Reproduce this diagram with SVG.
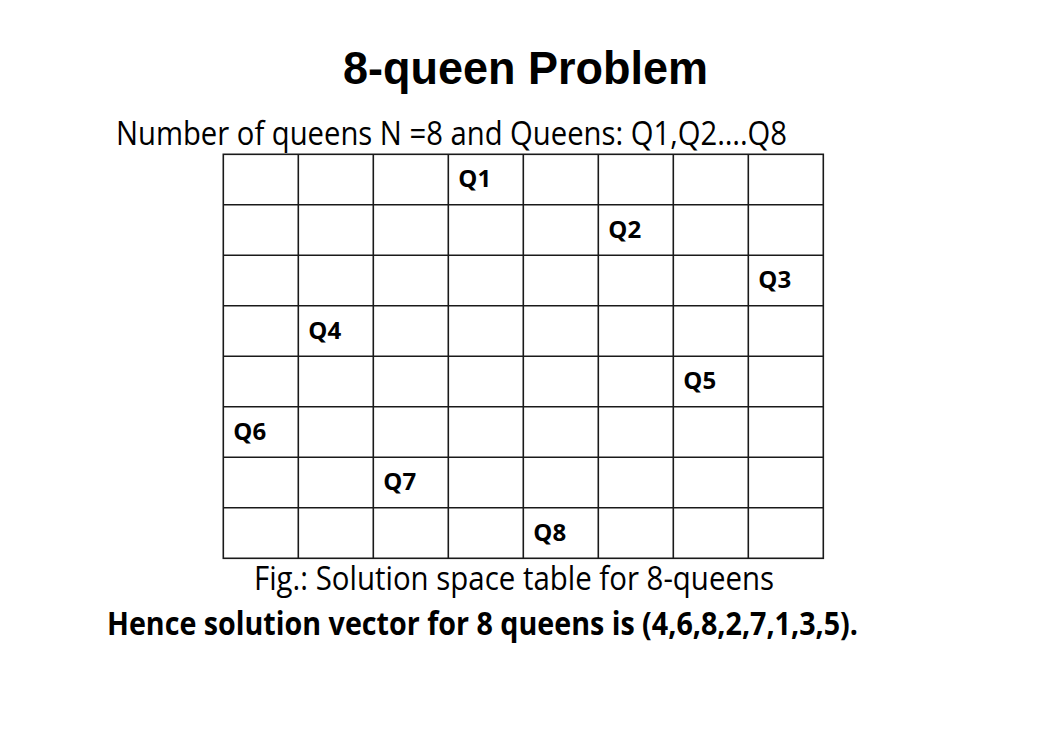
<svg xmlns="http://www.w3.org/2000/svg" width="1052" height="744" viewBox="0 0 1052 744">
<style>
.title{font-family:"Liberation Sans",Arial,sans-serif;font-weight:bold;font-size:46px;fill:#000}
.txt{font-family:"Open Sans","Liberation Sans",sans-serif;font-size:32px;fill:#000}
.bold{font-family:"Open Sans","Liberation Sans",sans-serif;font-weight:bold;font-size:32px;fill:#000}
.q{font-family:"Open Sans","Liberation Sans",sans-serif;font-weight:bold;font-size:24px;fill:#000}
.grid{stroke:#1a1a1a;stroke-width:1.6;fill:none}
</style>
<rect width="1052" height="744" fill="#fff"/>
<text class="title" x="343" y="84" textLength="365" lengthAdjust="spacingAndGlyphs">8-queen Problem</text>
<text class="txt" x="116" y="145" textLength="671" lengthAdjust="spacingAndGlyphs">Number of queens N =8 and Queens: Q1,Q2….Q8</text>
<g id="board">
<rect class="grid" x="223.3" y="154.3" width="600" height="404"/>
<path class="grid" d="M298.3 154.3V558.3M373.3 154.3V558.3M448.3 154.3V558.3M523.3 154.3V558.3M598.3 154.3V558.3M673.3 154.3V558.3M748.3 154.3V558.3M223.3 204.8H823.3M223.3 255.3H823.3M223.3 305.8H823.3M223.3 356.3H823.3M223.3 406.8H823.3M223.3 457.3H823.3M223.3 507.8H823.3"/>
</g>
<g id="queens">
<text class="q" x="458.3" y="187">Q1</text>
<text class="q" x="608.3" y="237.5">Q2</text>
<text class="q" x="758.3" y="288">Q3</text>
<text class="q" x="308.3" y="338.5">Q4</text>
<text class="q" x="683.3" y="389">Q5</text>
<text class="q" x="233.3" y="439.5">Q6</text>
<text class="q" x="383.3" y="490">Q7</text>
<text class="q" x="533.3" y="540.5">Q8</text>
</g>
<text class="txt" x="254" y="590" textLength="520" lengthAdjust="spacingAndGlyphs">Fig.: Solution space table for 8-queens</text>
<text class="bold" x="107" y="635" textLength="751" lengthAdjust="spacingAndGlyphs">Hence solution vector for 8 queens is (4,6,8,2,7,1,3,5).</text>
</svg>
